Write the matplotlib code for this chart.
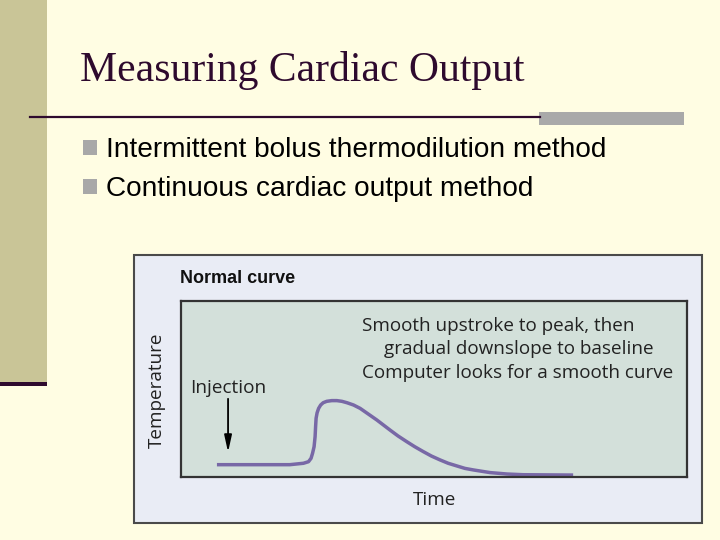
import matplotlib.pyplot as plt
from matplotlib.patches import Rectangle

# slide text
title = "Measuring Cardiac Output"
bullets = ["Intermittent bolus thermodilution method",
           "Continuous cardiac output method"]
panel_title = "Normal curve"
note_lines = ["Smooth upstroke to peak, then",
              "gradual downslope to baseline",
              "Computer looks for a smooth curve"]
note_indent = [0, 22, 0]

# thermodilution curve (arbitrary units, 0-100)
time = [7.1, 11.7, 15.6, 21.5, 24.2, 25.2, 25.7, 26.0, 26.3, 26.5, 26.6,
        26.7, 26.9, 27.2, 27.6, 28.1, 28.8, 29.8, 30.8, 31.8, 32.8, 34.1,
        35.4, 37.0, 38.7, 41.3, 42.9, 44.6, 46.2, 47.9, 49.5, 51.2, 52.8,
        54.5, 56.1, 57.8, 61.1, 64.4, 67.6, 77.5]
temperature = [7.0, 7.0, 7.0, 7.0, 7.8, 8.7, 10.6, 13.5, 17.2, 22.9, 28.6,
               33.4, 36.5, 39.0, 40.9, 42.2, 43.0, 43.4, 43.4, 43.0, 42.2,
               40.9, 39.0, 35.8, 32.4, 26.7, 23.3, 20.1, 17.2, 14.4, 11.9,
               9.7, 7.8, 6.3, 4.9, 4.0, 2.5, 1.7, 1.3, 1.1]
injection_time = 9.3

W, H = 720, 540
fig = plt.figure(figsize=(7.2, 5.4), dpi=100)
fig.patch.set_facecolor("#fffde3")

# background axes in pixel units
bg = fig.add_axes([0, 0, 1, 1])
bg.set_xlim(0, W)
bg.set_ylim(H, 0)
bg.axis("off")

dark = "#2e0a2e"
bg.add_patch(Rectangle((0, 0), 47, 382, color="#c9c597", lw=0))
bg.add_patch(Rectangle((0, 382), 47, 3.5, color=dark, lw=0))
bg.plot([30, 540], [117, 117], color=dark, lw=1.6)
bg.add_patch(Rectangle((539, 111.5), 145, 13, color="#a9a9a9", lw=0))

bg.text(80, 81, title, family="Liberation Serif", fontsize=30,
        color=dark, va="baseline")
for i, item in enumerate(bullets):
    base = 157 + i * 38.5
    bg.add_patch(Rectangle((83, base - 17), 14, 15, color="#a8a8a8", lw=0))
    bg.text(106, base, item, family="Liberation Sans", fontsize=20.2,
            color="black", va="baseline")

# figure panel
bg.add_patch(Rectangle((134, 255), 568, 268, facecolor="#e9ecf5",
                       edgecolor="#4a4a4a", lw=1.5))
bg.text(180, 283, panel_title, family="Liberation Sans", weight="bold",
        fontsize=13, va="baseline", color="#111111")

x0, x1, y0, y1 = 181, 687, 301, 477
ax = fig.add_axes([x0 / W, 1 - y1 / H, (x1 - x0) / W, (y1 - y0) / H])
ax.set_facecolor("#d3e0da")
ax.set_xlim(0, 100)
ax.set_ylim(0, 100)
ax.set_xticks([])
ax.set_yticks([])
for s in ax.spines.values():
    s.set_color("#333333")
    s.set_linewidth(1.6)

ax.plot(time, temperature, color="#7868a6", lw=2.5, solid_capstyle="butt",
        solid_joinstyle="round", clip_on=False)
ax.annotate("", xy=(injection_time, 12.5), xytext=(injection_time, 46),
            arrowprops=dict(arrowstyle="-|>,head_length=1.0,head_width=0.22",
                            color="black", lw=1.3))
ax.text(1.8, 50.5, "Injection", family="Open Sans", fontsize=13.7,
        va="center", color="#222222")

# notes sit on top of the plot area, placed in pixel units
for i, line in enumerate(note_lines):
    ax.text(362 + note_indent[i], 326 + i * 23.5, line, family="Open Sans",
            fontsize=13.6, va="center", color="#222222",
            transform=bg.transData)

bg.text(157, 390, "Temperature", family="Open Sans", fontsize=13.6,
        rotation=90, ha="center", va="center", color="#222222")
bg.text(435, 500, "Time", family="Open Sans", fontsize=13.6,
        ha="center", va="center", color="#222222")

fig.savefig("out.png", dpi=100, facecolor=fig.get_facecolor())
